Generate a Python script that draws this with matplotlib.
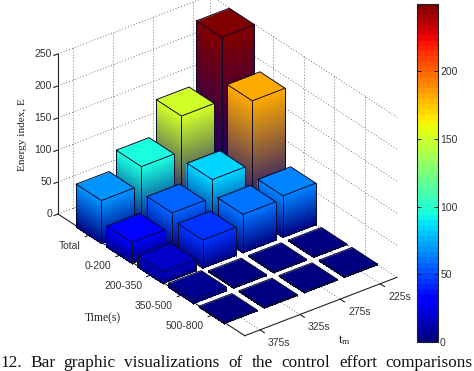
import numpy as np
import matplotlib
matplotlib.use("Agg")
import matplotlib.pyplot as plt
from matplotlib.cm import ScalarMappable
from matplotlib.colors import Normalize
from mpl_toolkits.mplot3d import proj3d
from mpl_toolkits.mplot3d.art3d import Poly3DCollection

time_labels = ["Total", "0-200", "200-350", "350-500", "500-800"]
tm_labels = ["375s", "325s", "275s", "225s"]
energy_total = [67, 96, 151, 250]
energy_0_200 = [33, 55, 83, 182]
energy_200_350 = [18, 44, 60, 65]
energy_350_500 = [6, 1.5, 1.5, 1.5]
energy_500_800 = [1.5, 1.5, 1.5, 1.5]
z_ticks = [0, 50, 100, 150, 200, 250]
cbar_ticks = [0, 50, 100, 150, 200]
caption_words = ["12.", "Bar", "graphic", "visualizations", "of", "the", "control", "effort", "comparisons"]
caption_x = [0, 30, 63, 124, 228, 252, 281, 339, 385]

W, H = 474, 371
TICK = "#333333"
plt.rcParams["font.family"] = ["Liberation Sans", "DejaVu Sans"]
plt.rcParams["mathtext.default"] = "regular"

rows = [energy_total, energy_0_200, energy_200_350, energy_350_500, energy_500_800]
x0, x1 = -0.04, 6.04
y0, y1 = 0.62, 4.42
zmax = 250
w = 0.41
cmap = plt.get_cmap("jet", 64)
norm = Normalize(0, zmax)

fig = plt.figure(figsize=(W / 100, H / 100), dpi=100)
ax = fig.add_axes([0.1, 0.1, 0.6, 0.6 * W / H], projection="3d", computed_zorder=False)
ax.set_proj_type("ortho")
ax.view_init(elev=30, azim=-37.5)
ax.set_box_aspect((307, 192, 185))
ax.set_xlim(x0, x1, view_margin=0)
ax.set_ylim(y0, y1, view_margin=0)
ax.set_zlim(0, zmax, view_margin=0)
ax.set_axis_off()
ax.patch.set_alpha(0)


def to_px(x, y, z):
    fig.canvas.draw()
    xs, ys, _ = proj3d.proj_transform(x, y, z, ax.get_proj())
    p = ax.transData.transform((xs, ys))
    return p[0], H - p[1]


# Fit the 3D box to the reference: left corner (58,214), right corner (397,277)
L_target = np.array([58.0, 214.0])
R_target = np.array([397.0, 277.0])
for _ in range(3):
    L = np.array(to_px(x0, y0, 0))
    R = np.array(to_px(x1, y1, 0))
    pos = ax.get_position(original=True)
    s = (R_target[0] - L_target[0]) / (R[0] - L[0])
    size = pos.width * W * s
    cx = pos.x0 * W + pos.width * W / 2
    cy = H - (pos.y0 * H + pos.height * H / 2)
    new_cx = L_target[0] + (cx - L[0]) * s
    new_cy = L_target[1] + (cy - L[1]) * s
    ax.set_position([(new_cx - size / 2) / W, 1 - (new_cy + size / 2) / H, size / W, size / H])

dots = dict(color="#444444", lw=0.6, ls=(0, (1, 2.6)), zorder=1)
solid = dict(color="#222222", lw=0.8, zorder=2)
x_pos = np.arange(1, len(time_labels) + 1)
y_pos = np.arange(1, len(tm_labels) + 1)

for z in z_ticks:
    ax.plot([x0, x0], [y0, y1], [z, z], **dots)
    ax.plot([x0, x1], [y1, y1], [z, z], **dots)
    ax.plot([x0, x0], [y0, y0 - 0.1], [z, z], **solid)
for y in y_pos:
    ax.plot([x0, x0], [y, y], [0, zmax], **dots)
    ax.plot([x0, x1], [y, y], [0, 0], **dots)
    ax.plot([x1, x1 + 0.14], [y, y], [0, 0], **solid)
for x in x_pos:
    ax.plot([x, x], [y1, y1], [0, zmax], **dots)
    ax.plot([x, x], [y0, y1], [0, 0], **dots)
    ax.plot([x, x], [y0, y0 - 0.12], [0, 0], **solid)
ax.plot([x0, x0], [y1, y1], [0, zmax], **dots)
ax.plot([x0, x0], [y0, y0], [0, zmax], **solid)
ax.plot([x0, x1], [y0, y0], [0, 0], **solid)
ax.plot([x1, x1], [y0, y1], [0, 0], **solid)

bars = [(x, y, rows[i][j]) for i, x in enumerate(x_pos) for j, y in enumerate(y_pos)]
bars.sort(key=lambda b: b[0] * 0.79 - b[1] * 0.61)

edge = dict(color="#0a0a28", lw=0.7, solid_capstyle="round")
low = np.array(cmap(norm(0)))
for k, (x, y, h) in enumerate(bars):
    zo = 10 + k * 2
    top = np.array(cmap(norm(h)))
    a, b = x - w, x + w
    c, d = y - w, y + w
    n = 60 if h > 5 else 2
    zs = np.linspace(0, h, n + 1)
    polys, cols = [], []
    for z1, z2 in zip(zs[:-1], zs[1:]):
        t = (z1 + z2) / 2 / h
        col = low + (top - low) * t
        polys.append([(b, c, z1), (b, d, z1), (b, d, z2), (b, c, z2)])
        cols.append(col)
        polys.append([(a, c, z1), (b, c, z1), (b, c, z2), (a, c, z2)])
        cols.append(col)
    side = Poly3DCollection(polys, facecolors=cols, edgecolors="none", linewidths=0,
                            antialiaseds=False, zorder=zo)
    side.set_sort_zpos(0)
    ax.add_collection3d(side, autolim=False)
    tp = Poly3DCollection([[(a, c, h), (b, c, h), (b, d, h), (a, d, h)]], facecolors=[top],
                          edgecolors=[top], linewidths=0.2, zorder=zo)
    ax.add_collection3d(tp, autolim=False)
    e = dict(edge, zorder=zo + 1)
    ax.plot([a, b, b, a, a], [c, c, d, d, c], [h] * 5, **e)
    ax.plot([a, a], [c, c], [0, h], **e)
    ax.plot([b, b], [c, c], [0, h], **e)
    ax.plot([b, b], [d, d], [0, h], **e)
    ax.plot([a, b, b], [c, c, d], [0, 0, 0], **e)


def label(text, pt, dx, dy, ha):
    ax.annotate(text, xy=(pt[0] / W, 1 - pt[1] / H), xycoords="figure fraction",
                xytext=(dx, -dy), textcoords="offset pixels", ha=ha, va="center",
                fontsize=7.5, color=TICK, annotation_clip=False)


for z in z_ticks:
    label(str(z), to_px(x0, y0, z), -6, 0, "right")
for x, t in zip(x_pos, time_labels):
    label(t, to_px(x, y0, 0), -9, 11, "right")
for y, t in zip(y_pos, tm_labels):
    label(t, to_px(x1, y, 0), 8, 13, "left")

serif = ["Liberation Serif", "DejaVu Serif"]
fig.text(23 / W, 1 - 135 / H, "Energy index, E", rotation=90, ha="center", va="center",
         fontsize=8.1, family=serif, color="#222222")
fig.text(103 / W, 1 - 318 / H, "Time(s)", ha="center", va="center", fontsize=8.4,
         family=serif, color="#222222")
fig.text(344 / W, 1 - 340 / H, r"$t_m$", ha="center", va="center", fontsize=9.5,
         family=serif, color="#222222")
for word, px in zip(caption_words, caption_x):
    fig.text(px / W, 1 - 367 / H, word, ha="left", va="baseline", fontsize=12.4,
             family=serif, color="#111111")

cax = fig.add_axes([417 / W, 1 - 342 / H, 21 / W, (342 - 3.5) / H])
cb = fig.colorbar(ScalarMappable(norm=norm, cmap=cmap), cax=cax, ticks=cbar_ticks)
cb.ax.tick_params(which="both", direction="in", left=True, right=True, length=3, width=0.7,
                  labelsize=7.5, labelcolor=TICK, pad=1.5, color="#222222")
cb.minorticks_off()
cb.outline.set_linewidth(0.8)
cb.outline.set_edgecolor("#222222")

fig.savefig("out.png", dpi=100)
